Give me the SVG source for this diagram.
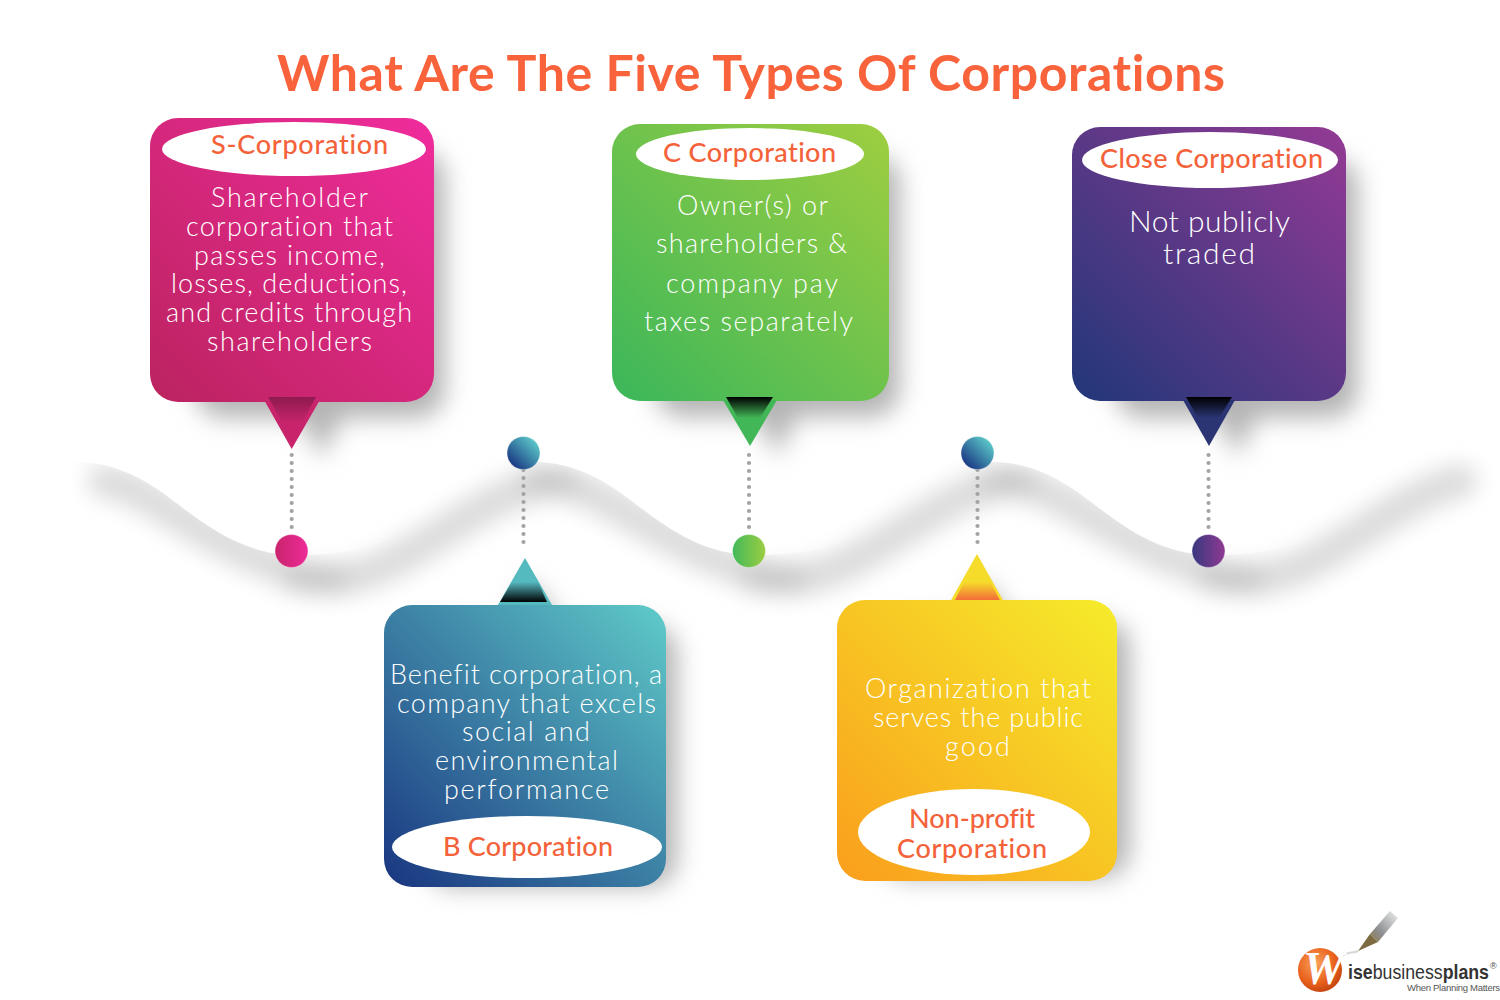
<svg xmlns="http://www.w3.org/2000/svg" width="1500" height="1000" viewBox="0 0 1500 1000">
<style>
text{font-family:"Lato","Noto Sans",sans-serif;font-variant-ligatures:none}
.title{font-size:50px;font-weight:700;fill:#f9633c}
.body{font-size:27px;font-weight:300;fill:#fff}
.label{font-size:27px;font-weight:500;fill:#f4623a}
.pill{fill:#fff}
.dots{fill:none;stroke:#a3a3a3;stroke-width:4.2;stroke-linecap:round;stroke-dasharray:0 8}
.shadow{fill:#b4b4b4;filter:url(#blur)}
.edge{stroke:#fff;stroke-opacity:.45;stroke-width:.8}
.wedge{fill:url(#fade)}
</style>
<defs>
<filter id="blur" x="-30%" y="-30%" width="160%" height="160%"><feGaussianBlur stdDeviation="12"/></filter>
<filter id="waveblur" x="-5%" y="-50%" width="110%" height="200%"><feGaussianBlur stdDeviation="11"/></filter>
<linearGradient id="fade" x1="0" x2="1" y1="0" y2="0"><stop offset=".68" stop-color="#fff"/><stop offset="1" stop-color="#fff" stop-opacity="0"/></linearGradient>
<linearGradient id="gS" x1="0" y1="1" x2="1" y2="0"><stop offset="0" stop-color="#bb235f"/><stop offset="1" stop-color="#f02c9c"/></linearGradient>
<linearGradient id="gC" x1="0" y1="1" x2="1" y2="0"><stop offset="0" stop-color="#3bb75a"/><stop offset="1" stop-color="#9fce40"/></linearGradient>
<linearGradient id="gD" x1="0" y1="1" x2="1" y2="0"><stop offset="0" stop-color="#213779"/><stop offset="1" stop-color="#943a94"/></linearGradient>
<linearGradient id="gB" x1="0" y1="1" x2="1" y2="0"><stop offset="0" stop-color="#193580"/><stop offset="1" stop-color="#5fcbc9"/></linearGradient>
<linearGradient id="gN" x1="0" y1="1" x2="1" y2="0"><stop offset="0" stop-color="#fa9e1c"/><stop offset="1" stop-color="#f5ec2b"/></linearGradient>
<linearGradient id="hS" x1="0" x2="1" y1="0" y2="0"><stop offset="0" stop-color="#c8246c"/><stop offset="1" stop-color="#ee2b98"/></linearGradient>
<linearGradient id="hC" x1="0" x2="1" y1="0" y2="0"><stop offset="0" stop-color="#42b95a"/><stop offset="1" stop-color="#9ccd42"/></linearGradient>
<linearGradient id="hD" x1="0" x2="1" y1="0" y2="0"><stop offset="0" stop-color="#38387e"/><stop offset="1" stop-color="#8f3a92"/></linearGradient>
<linearGradient id="vB" x1="0" y1="1" x2="1" y2="0"><stop offset=".15" stop-color="#1b3a84"/><stop offset=".85" stop-color="#5ac6c8"/></linearGradient>
<linearGradient id="iS" x1="0" y1="0" x2="0" y2="1"><stop offset="0" stop-color="#8e1b50"/><stop offset="1" stop-color="#c6246a"/></linearGradient>
<linearGradient id="iC" x1="0" y1="0" x2="0" y2="1"><stop offset="0" stop-color="#000"/><stop offset="1" stop-color="#42b757"/></linearGradient>
<linearGradient id="iD" x1="0" y1="0" x2="0" y2="1"><stop offset="0" stop-color="#000"/><stop offset="1" stop-color="#2b3574"/></linearGradient>
<linearGradient id="iB" x1="0" y1="0" x2="0" y2="1"><stop offset="0" stop-color="#55b9c0"/><stop offset="1" stop-color="#000"/></linearGradient>
<linearGradient id="iN" x1="0" y1="0" x2="0" y2="1"><stop offset="0" stop-color="#f6dc2a"/><stop offset="1" stop-color="#f2603a"/></linearGradient>
<radialGradient id="orb" cx=".4" cy=".35" r=".75"><stop offset="0" stop-color="#f9a35a"/><stop offset=".6" stop-color="#e8601c"/><stop offset="1" stop-color="#b83c0c"/></radialGradient>
<linearGradient id="pen" x1="0" y1="1" x2="1" y2="0"><stop offset="0" stop-color="#8f7a50"/><stop offset=".35" stop-color="#8d8f92"/><stop offset="1" stop-color="#f0f0f0"/></linearGradient>
</defs>

<g id="wave">
<g filter="url(#waveblur)" fill="none" stroke-linecap="round">
<path d="M105 481C150 486 205 548 313 578C390 592 455 505 547 481C600 482 660 548 771 578C848 592 913 505 1005 481C1058 482 1118 548 1229 578C1310 592 1375 505 1460 481" stroke="#dcdcdc" stroke-width="34"/>
<path d="M295 578H335M535 481H565M753 578H793M993 481H1023M1211 578H1251" stroke="#c8c8c8" stroke-width="26"/>
</g>
<path class="wedge" d="M60 425V462C95 460 125 466 163 493C203 523 240 555 297 555C330 555 365 552 400 535L330 480L180 415Z"/>
<path class="wedge" d="M518 425V462C553 460 583 466 621 493C661 523 698 555 755 555C788 555 823 552 858 535L788 480L638 415Z"/>
<path class="wedge" d="M976 425V462C1011 460 1041 466 1079 493C1119 523 1156 555 1213 555C1246 555 1281 552 1316 535L1246 480L1096 415Z"/>
</g>

<g id="title"><text class="title" x="277" y="91" textLength="948">What Are The Five Types Of Corporations</text></g>

<g id="connectors">
<path class="dots" d="M291.700 455V535"/>
<path class="dots" d="M523.500 470V550"/>
<path class="dots" d="M749 455V535"/>
<path class="dots" d="M977.500 470V550"/>
<path class="dots" d="M1208.500 455V535"/>
</g>

<g id="node-s-corporation">
<g class="shadow"><rect x="195" y="150" width="250" height="268" rx="28"/><path d="M295 410H345L322 458Z"/></g>
<rect x="150" y="118" width="284" height="284" rx="28" fill="url(#gS)"/>
<path d="M265 401.500H319L291.700 449Z" fill="#c8246c"/>
<path d="M268 397H316L302 422H282Z" fill="url(#iS)"/>
<ellipse class="pill" cx="294" cy="149" rx="132" ry="27"/>
<text class="label" x="211" y="154" textLength="177">S-Corporation</text>
<text class="body" x="211" y="207" textLength="157">Shareholder</text>
<text class="body" x="186" y="236" textLength="207">corporation that</text>
<text class="body" x="194" y="265" textLength="191">passes income,</text>
<text class="body" x="171" y="293" textLength="236">losses, deductions,</text>
<text class="body" x="166" y="322" textLength="246">and credits through</text>
<text class="body" x="207" y="351" textLength="165">shareholders</text>
<circle cx="291.500" cy="551" r="16.500" fill="url(#hS)" class="edge"/>
</g>

<g id="node-b-corporation">
<g class="shadow"><rect x="425" y="625" width="252" height="262" rx="28"/><path d="M530 580L560 620H510Z"/></g>
<path d="M525 558L552 605H498Z" fill="#55b9c0"/>
<path d="M512 582H538L547 602H500Z" fill="url(#iB)"/>
<rect x="384" y="605" width="282" height="282" rx="28" fill="url(#gB)"/>
<ellipse class="pill" cx="527" cy="847" rx="135" ry="31"/>
<text class="body" x="390" y="684" textLength="272">Benefit corporation, a</text>
<text class="body" x="397" y="713" textLength="259">company that excels</text>
<text class="body" x="462" y="741" textLength="128">social and</text>
<text class="body" x="435" y="770" textLength="183">environmental</text>
<text class="body" x="444" y="799" textLength="165">performance</text>
<text class="label" x="443" y="856" textLength="170">B Corporation</text>
<circle cx="523.500" cy="453" r="16.500" fill="url(#vB)" class="edge"/>
</g>

<g id="node-c-corporation">
<g class="shadow"><rect x="655" y="155" width="245" height="262" rx="28"/><path d="M750 408H800L778 456Z"/></g>
<rect x="612" y="124" width="277" height="277" rx="28" fill="url(#gC)"/>
<path d="M723 400H777L750 446Z" fill="#42b757"/>
<path d="M726 397H773L760 418H738Z" fill="url(#iC)"/>
<ellipse class="pill" cx="750" cy="154" rx="114" ry="26"/>
<text class="label" x="663" y="162" textLength="173">C Corporation</text>
<text class="body" x="677" y="215" textLength="151">Owner(s) or</text>
<text class="body" x="656" y="253" textLength="191">shareholders &amp;</text>
<text class="body" x="666" y="293" textLength="172">company pay</text>
<text class="body" x="644" y="331" textLength="209">taxes separately</text>
<circle cx="749" cy="551" r="16.500" fill="url(#hC)" class="edge"/>
</g>

<g id="node-non-profit">
<g class="shadow"><rect x="880" y="620" width="250" height="258" rx="28"/><path d="M982 578L1012 620H962Z"/></g>
<path d="M977 554L1004 602H950Z" fill="#f6dc2a"/>
<path d="M964 582H990L1001 602H954Z" fill="url(#iN)"/>
<rect x="837" y="600" width="280" height="281" rx="28" fill="url(#gN)"/>
<ellipse class="pill" cx="974" cy="832" rx="116" ry="43"/>
<text class="body" x="865" y="698" textLength="226">Organization that</text>
<text class="body" x="873" y="727" textLength="210">serves the public</text>
<text class="body" x="945" y="756" textLength="65">good</text>
<text class="label" x="909" y="828" textLength="126">Non-profit</text>
<text class="label" x="897" y="858" textLength="150">Corporation</text>
<circle cx="977.500" cy="453" r="16.500" fill="url(#vB)" class="edge"/>
</g>

<g id="node-close-corporation">
<g class="shadow"><rect x="1115" y="158" width="243" height="260" rx="28"/><path d="M1210 408H1260L1238 456Z"/></g>
<rect x="1072" y="127" width="274" height="274" rx="28" fill="url(#gD)"/>
<path d="M1183 400H1235L1209 446Z" fill="#2b3574"/>
<path d="M1186 397H1232L1219 418H1198Z" fill="url(#iD)"/>
<ellipse class="pill" cx="1210" cy="160" rx="128" ry="28"/>
<text class="label" x="1100" y="168" textLength="223">Close Corporation</text>
<text class="body" style="font-size:30px" x="1129" y="232" textLength="161">Not publicly</text>
<text class="body" style="font-size:30px" x="1163" y="264" textLength="92">traded</text>
<circle cx="1208.500" cy="551" r="16.500" fill="url(#hD)" class="edge"/>
</g>

<g id="logo">
<path d="M1370 934L1390 911L1398 918L1378 942Z" fill="url(#pen)"/>
<path d="M1358 951L1370 934L1378 942Z" fill="#7d6a42"/>
<circle cx="1320" cy="970" r="22" fill="url(#orb)"/>
<path d="M1340 958C1348 950 1352 954 1358 951" fill="none" stroke="#d8d8d8" stroke-width="2"/>
<text x="1303" y="984" style="font-family:'Liberation Serif',serif;font-style:italic;font-weight:700;font-size:46px;fill:#fff">W</text>
<text x="1348" y="979" textLength="141" lengthAdjust="spacingAndGlyphs" style="font-family:'Liberation Sans',sans-serif;font-size:21px;fill:#333"><tspan font-weight="700">ise</tspan>business<tspan font-weight="700">plans</tspan></text>
<text x="1490" y="969" style="font-family:'Liberation Sans',sans-serif;font-size:9px;fill:#444">®</text>
<text x="1407" y="991" textLength="93" style="font-family:'Liberation Sans',sans-serif;font-size:9.500px;fill:#555">When Planning Matters</text>
</g>
</svg>
